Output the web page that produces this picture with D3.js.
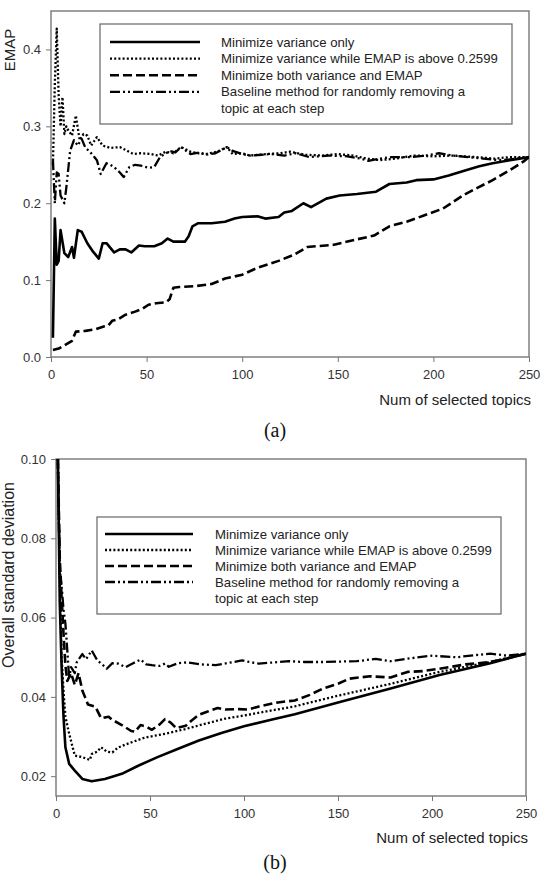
<!DOCTYPE html>
<html>
<head>
<meta charset="utf-8">
<script src="https://cdn.jsdelivr.net/npm/d3@7"></script>
<style>
  body { margin: 0; background: #fff; }
  svg { display: block; }
  .tick text { font-family: Arial, "Liberation Sans", sans-serif; font-size: 13px; fill: #333; }
  .tick line { stroke: #777; }
  .lbl { font-family: Arial, "Liberation Sans", sans-serif; fill: #222; }
  .cap { font-family: "Times New Roman", "Liberation Serif", serif; font-size: 20px; fill: #111; }
</style>
</head>
<body>
<svg id="chart" width="547" height="878"></svg>
<script>
// legend texts shared by both panels
var seriesNames = [
    "Minimize variance only",
    "Minimize variance while EMAP is above 0.2599",
    "Minimize both variance and EMAP",
    ["Baseline method for randomly removing a", "topic at each step"]
];

var xTicks = [0, 50, 100, 150, 200, 250];
var emapTicks = [0.0, 0.1, 0.2, 0.3, 0.4];
var sdTicks = [0.02, 0.04, 0.06, 0.08, 0.10];

// (a) EMAP vs number of selected topics, [topics, EMAP]
var emapVarOnly = [[1,0.025],[2,0.18],[3,0.12],[4,0.125],[5,0.165],[6,0.15],[7,0.135],[9,0.13],[11,0.143],[12,0.129],
    [14,0.165],[16,0.163],[19,0.148],[22,0.137],[25,0.128],[27,0.148],[29,0.148],[33,0.136],[36,0.14],[39,0.14],
    [42,0.136],[46,0.145],[49,0.144],[54,0.144],[58,0.148],[61,0.154],[64,0.15],[67,0.15],[70,0.15],[72,0.157],
    [74,0.17],[77,0.174],[84,0.174],[91,0.176],[96,0.18],[100,0.182],[108,0.183],[112,0.18],[119,0.182],[122,0.188],
    [126,0.19],[132,0.2],[136,0.195],[144,0.206],[151,0.21],[160,0.212],[170,0.215],[177,0.225],[186,0.227],[191,0.23],
    [200,0.231],[208,0.236],[217,0.243],[224,0.248],[231,0.252],[240,0.256],[250,0.26]];

var emapAbove = [[1,0.25],[2,0.355],[3,0.427],[4,0.34],[5,0.30],[6,0.338],[7,0.29],[8,0.30],[9,0.295],[11,0.288],
    [13,0.314],[15,0.282],[17,0.29],[19,0.288],[21,0.275],[24,0.286],[27,0.275],[31,0.272],[36,0.273],[40,0.268],
    [43,0.264],[47,0.265],[52,0.264],[56,0.262],[60,0.267],[64,0.265],[68,0.273],[73,0.267],[77,0.265],[81,0.264],
    [87,0.267],[92,0.273],[95,0.264],[100,0.265],[104,0.262],[113,0.264],[120,0.265],[125,0.267],[133,0.263],[142,0.262],
    [150,0.264],[158,0.262],[165,0.258],[172,0.256],[180,0.258],[190,0.262],[200,0.261],[210,0.262],[222,0.26],[232,0.258],
    [240,0.26],[250,0.26]];

var emapBoth = [[1,0.009],[4,0.011],[7,0.015],[11,0.021],[13,0.033],[18,0.034],[23,0.036],[28,0.04],[30,0.041],[32,0.047],
    [35,0.049],[39,0.055],[44,0.059],[48,0.063],[51,0.068],[55,0.07],[60,0.071],[62,0.075],[64,0.09],[67,0.091],
    [75,0.092],[84,0.095],[91,0.102],[100,0.107],[108,0.116],[119,0.125],[127,0.133],[134,0.143],[148,0.146],[160,0.153],
    [169,0.158],[177,0.17],[186,0.176],[195,0.184],[205,0.193],[216,0.211],[223,0.22],[231,0.23],[240,0.243],[247,0.254],
    [250,0.26]];

var emapBaseline = [[1,0.256],[2,0.2],[3,0.24],[4,0.238],[5,0.21],[7,0.2],[8,0.22],[10,0.268],[12,0.282],[14,0.275],
    [16,0.284],[18,0.272],[20,0.268],[22,0.262],[24,0.256],[26,0.238],[29,0.252],[31,0.25],[33,0.247],[36,0.24],
    [38,0.234],[41,0.247],[44,0.25],[47,0.249],[51,0.246],[54,0.247],[57,0.26],[62,0.268],[65,0.266],[68,0.273],
    [73,0.264],[78,0.266],[81,0.263],[86,0.265],[92,0.273],[95,0.268],[100,0.264],[104,0.262],[110,0.263],[115,0.264],
    [122,0.262],[128,0.265],[135,0.26],[145,0.262],[155,0.261],[162,0.258],[166,0.255],[172,0.258],[178,0.26],[188,0.26],
    [196,0.262],[203,0.265],[210,0.262],[218,0.26],[226,0.258],[234,0.256],[240,0.257],[250,0.26]];

// (b) overall standard deviation, [topics, sd]
var sdVarOnly = [[1,0.10],[2,0.064],[3,0.0475],[4,0.035],[5,0.0273],[7,0.0231],[10,0.0214],[14,0.0193],[19,0.0187],[26,0.0193],
    [35,0.0206],[44,0.0227],[54,0.0248],[65,0.0269],[76,0.029],[88,0.0309],[100,0.0326],[115,0.0343],[127,0.0356],[151,0.0387],
    [178,0.0421],[204,0.0455],[231,0.0485],[250,0.0509]];

var sdAbove = [[1,0.10],[2,0.07],[3,0.05],[4,0.0416],[5,0.035],[7,0.0307],[10,0.0252],[14,0.0248],[18,0.0241],[19,0.0256],
    [22,0.0262],[24,0.0273],[27,0.0262],[30,0.026],[33,0.0272],[37,0.028],[47,0.0297],[58,0.0307],[69,0.0319],[79,0.0332],
    [90,0.0345],[100,0.0353],[115,0.0366],[127,0.0376],[151,0.0404],[178,0.0433],[204,0.0463],[231,0.0488],[250,0.0509]];

var sdBoth = [[1,0.10],[2,0.075],[3,0.065],[4,0.056],[5,0.048],[6,0.044],[8,0.046],[10,0.043],[12,0.046],[14,0.0416],
    [17,0.0381],[21,0.0375],[24,0.0346],[28,0.035],[30,0.0342],[35,0.0329],[40,0.0314],[42,0.0312],[45,0.0329],[48,0.0325],
    [51,0.0317],[55,0.033],[58,0.0344],[61,0.0335],[64,0.0321],[69,0.0327],[72,0.034],[76,0.0355],[80,0.0362],[86,0.0372],
    [90,0.0368],[97,0.0369],[102,0.0368],[108,0.0376],[118,0.0386],[127,0.0391],[135,0.0405],[142,0.0421],[150,0.0433],
    [156,0.0446],[167,0.0452],[178,0.0449],[187,0.0463],[195,0.0465],[204,0.0471],[218,0.0482],[231,0.0488],[240,0.0497],
    [250,0.0509]];

var sdBaseline = [[1,0.10],[2,0.072],[3,0.068],[4,0.062],[5,0.0585],[6,0.0518],[7,0.0447],[8,0.0475],[10,0.046],[11,0.0487],
    [14,0.0508],[16,0.0495],[19,0.0517],[22,0.0492],[25,0.048],[27,0.0471],[30,0.0485],[33,0.0484],[37,0.0475],[41,0.0485],
    [45,0.0494],[48,0.0482],[51,0.048],[55,0.0478],[58,0.0484],[60,0.0476],[65,0.0485],[70,0.0487],[77,0.0482],[85,0.048],
    [92,0.0486],[99,0.0492],[104,0.0487],[108,0.0484],[116,0.0487],[124,0.049],[132,0.0488],[142,0.0488],[150,0.0489],
    [160,0.049],[170,0.0496],[178,0.049],[188,0.0497],[199,0.0504],[213,0.05],[222,0.0505],[231,0.0509],[240,0.0504],
    [250,0.0509]];

// line looks: solid, dotted, dashed, dash-dot-dot
var styles = [
    { dash: null, width: 2.6 },
    { dash: "2,2.2", width: 2.3 },
    { dash: "9,4", width: 2.6 },
    { dash: "10,3,2,3,2,3", width: 2.3 }
];

var svg = d3.select("#chart");

function drawPanel(p) {
    var g = svg.append("g");
    var x = d3.scaleLinear().domain([0, 250]).range([p.left, p.right]);
    var y = d3.scaleLinear().domain(p.yDomain).range([p.bottom, p.top]);

    var clipId = "clip" + p.id;
    g.append("clipPath").attr("id", clipId)
        .append("rect")
        .attr("x", p.left).attr("y", p.top - 2)
        .attr("width", p.right - p.left).attr("height", p.bottom - p.top + 2);

    g.append("g")
        .attr("transform", "translate(0," + p.bottom + ")")
        .call(d3.axisBottom(x).tickValues(xTicks).tickSize(5).tickPadding(8).tickSizeOuter(0))
        .call(function (a) { a.select(".domain").remove(); });

    g.append("g")
        .attr("transform", "translate(" + p.left + ",0)")
        .call(d3.axisLeft(y).tickValues(p.yTicks).tickFormat(d3.format(p.fmt)).tickSize(5).tickPadding(5).tickSizeOuter(0))
        .call(function (a) { a.select(".domain").remove(); });

    g.append("rect")
        .attr("x", p.left).attr("y", p.top)
        .attr("width", p.right - p.left).attr("height", p.bottom - p.top)
        .attr("fill", "none").attr("stroke", "#777").attr("stroke-width", 1.4);

    var line = d3.line()
        .x(function (d) { return x(d[0]); })
        .y(function (d) { return y(d[1]); });

    var lines = g.append("g").attr("clip-path", "url(#" + clipId + ")");
    p.series.forEach(function (s, i) {
        lines.append("path")
            .attr("d", line(s))
            .attr("fill", "none")
            .attr("stroke", "#000")
            .attr("stroke-width", styles[i].width)
            .attr("stroke-linejoin", "round")
            .attr("stroke-dasharray", styles[i].dash);
    });

    // legend
    var lg = p.legend;
    g.append("rect")
        .attr("x", lg.x).attr("y", lg.y)
        .attr("width", lg.w).attr("height", lg.h)
        .attr("fill", "#fff").attr("stroke", "#666").attr("stroke-width", 1.2);

    seriesNames.forEach(function (name, i) {
        var ry = lg.y + lg.row0 + i * lg.step;
        g.append("line")
            .attr("x1", lg.x + lg.lineX0).attr("x2", lg.x + lg.lineX1)
            .attr("y1", ry).attr("y2", ry)
            .attr("stroke", "#000")
            .attr("stroke-width", styles[i].width)
            .attr("stroke-dasharray", styles[i].dash);
        var t = g.append("text")
            .attr("class", "lbl")
            .attr("x", lg.x + lg.textX)
            .attr("y", ry + 4.5)
            .attr("font-size", 13.2);
        var parts = Array.isArray(name) ? name : [name];
        parts.forEach(function (txt, k) {
            t.append("tspan")
                .attr("x", lg.x + lg.textX)
                .attr("dy", k === 0 ? 0 : lg.step)
                .text(txt);
        });
    });

    // axis titles and caption
    g.append("text")
        .attr("class", "lbl")
        .attr("font-size", p.yTitleSize)
        .attr("text-anchor", "middle")
        .attr("transform", "translate(" + p.yTitleX + "," + p.yTitleY + ") rotate(-90)")
        .text(p.yTitle);

    g.append("text")
        .attr("class", "lbl")
        .attr("font-size", 15)
        .attr("text-anchor", "end")
        .attr("x", p.right + 2)
        .attr("y", p.xTitleY)
        .text("Num of selected topics");

    g.append("text")
        .attr("class", "cap")
        .attr("text-anchor", "middle")
        .attr("x", 275)
        .attr("y", p.capY)
        .text(p.caption);
}

drawPanel({
    id: "a", left: 51, right: 529, top: 11, bottom: 357,
    yDomain: [0, 0.45], yTicks: emapTicks, fmt: ".1f",
    series: [emapVarOnly, emapAbove, emapBoth, emapBaseline],
    legend: { x: 100, y: 24, w: 412, h: 100, row0: 18, step: 16.6, lineX0: 10, lineX1: 100, textX: 121 },
    yTitle: "EMAP", yTitleX: 15, yTitleY: 50, yTitleSize: 15,
    xTitleY: 405, caption: "(a)", capY: 437
});

drawPanel({
    id: "b", left: 56, right: 526, top: 459, bottom: 796,
    yDomain: [0.015, 0.10], yTicks: sdTicks, fmt: ".2f",
    series: [sdVarOnly, sdAbove, sdBoth, sdBaseline],
    legend: { x: 97, y: 517, w: 404, h: 97, row0: 17, step: 16, lineX0: 8, lineX1: 96, textX: 118 },
    yTitle: "Overall standard deviation", yTitleX: 14, yTitleY: 575, yTitleSize: 16,
    xTitleY: 843, caption: "(b)", capY: 869
});
</script>
</body>
</html>
